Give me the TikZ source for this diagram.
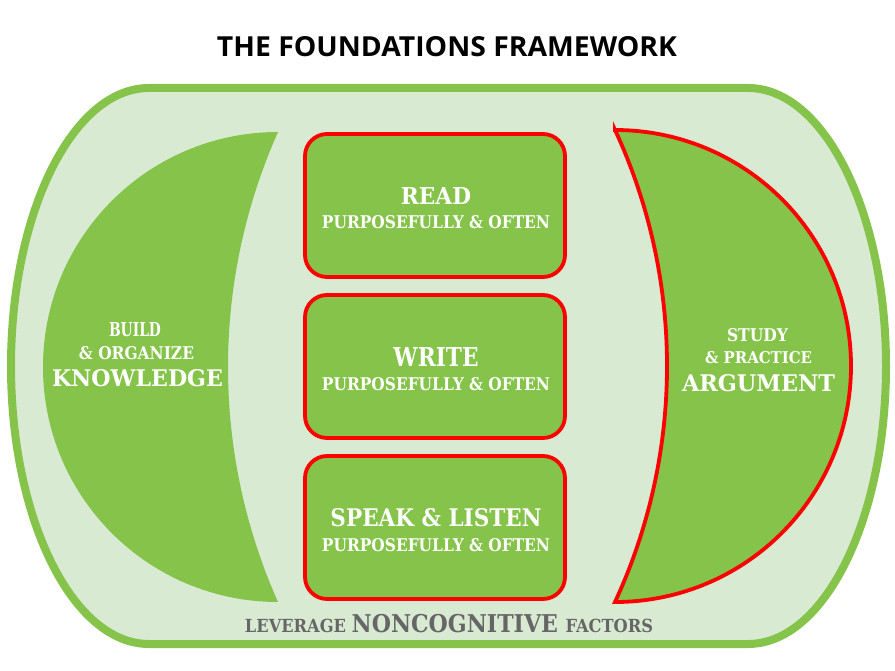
\documentclass[tikz,border=0pt]{standalone}
\usepackage{fontspec}
\usepackage{graphicx}
\setmainfont{DejaVu Serif Condensed}
\newfontfamily\titlefont{Open Sans}
\definecolor{paleg}{HTML}{D9EAD3}
\definecolor{leafg}{HTML}{85C34A}
\definecolor{edgered}{HTML}{FF0000}
\definecolor{txtgray}{HTML}{666666}
\newcommand{\fitbox}[3]{\resizebox{#1pt}{#2pt}{#3}}
\tikzset{
  outershape/.style={draw=leafg, fill=paleg, line width=8pt},
  leaf/.style={fill=leafg},
  redleaf/.style={fill=leafg, draw=edgered, line width=3.8pt},
  pillbox/.style={draw=edgered, fill=leafg, line width=3.8pt, rounded corners=22pt,
    minimum width=260pt, minimum height=143pt, inner sep=0pt},
  wtxt/.style={text=white, inner sep=0pt, font=\bfseries},
}
\begin{document}
\begin{tikzpicture}[x=1pt,y=1pt,yscale=-1]
\useasboundingbox (0,0) rectangle (895,671);
% title
\node[inner sep=0pt] (title) at (447,47) {\fitbox{460}{20}{\titlefont\bfseries THE FOUNDATIONS FRAMEWORK}};
% outer container
\draw[outershape] (149,88) -- (748,88) arc[start angle=-90, end angle=90, x radius=138, y radius=278]
  -- (149,644) arc[start angle=90, end angle=270, x radius=138, y radius=278] -- cycle;
% left crescent
\fill[leaf] (278,132) arc[start angle=270, end angle=90, radius=235]
  arc[start angle=155.97, end angle=204.03, radius=577] -- cycle;
% right crescent
\filldraw[redleaf] (615,130) arc[start angle=-90, end angle=90, radius=236]
  arc[start angle=24.86, end angle=-24.86, radius=561.5] -- cycle;
% boxes
\node[pillbox] (read) at (435,205.5) {};
\node[pillbox] (write) at (435,366.5) {};
\node[pillbox] (speak) at (435,527.5) {};
% box texts
\node[wtxt] (readA) at (436,195.5) {\fitbox{70}{17}{READ}};
\node[wtxt] (readB) at (436,222.5) {\fitbox{228}{13}{PURPOSEFULLY \& OFTEN}};
\node[wtxt] (writeA) at (436,356.5) {\fitbox{85}{19}{WRITE}};
\node[wtxt] (writeB) at (436,384) {\fitbox{228}{13}{PURPOSEFULLY \& OFTEN}};
\node[wtxt] (speakA) at (436,518) {\fitbox{211}{18}{SPEAK \& LISTEN}};
\node[wtxt] (speakB) at (436,545) {\fitbox{228}{13}{PURPOSEFULLY \& OFTEN}};
% left texts
\node[wtxt] (buildA) at (135,330) {\fitbox{52}{14}{BUILD}};
\node[wtxt] (buildB) at (136.5,353.5) {\fitbox{115}{13}{\& ORGANIZE}};
\node[wtxt] (buildC) at (137.5,378.5) {\fitbox{171}{17}{KNOWLEDGE}};
% right texts
\node[wtxt] (studyA) at (757.5,335.5) {\fitbox{61}{13}{STUDY}};
\node[wtxt] (studyB) at (758.5,358) {\fitbox{107}{12}{\& PRACTICE}};
\node[wtxt] (studyC) at (758.5,383.5) {\fitbox{153}{17}{ARGUMENT}};
% bottom text
\node[inner sep=0pt, anchor=base, text=txtgray, font=\bfseries] (bottom) at (449,632)
  {\resizebox{408pt}{!}{\fontsize{10}{12}\selectfont LEVERAGE \fontsize{13.6}{16}\selectfont NONCOGNITIVE \fontsize{10}{12}\selectfont FACTORS}};
\end{tikzpicture}
\end{document}
